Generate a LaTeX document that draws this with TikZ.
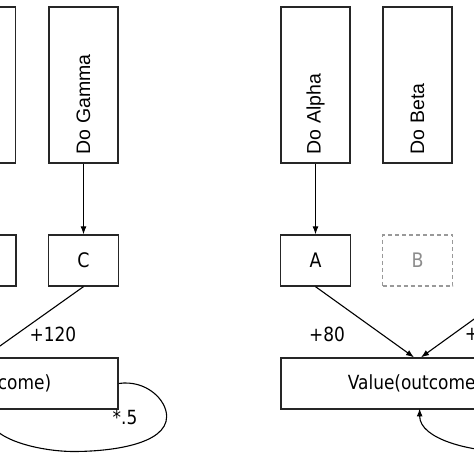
\documentclass[tikz,border=0pt]{standalone}
\usepackage{fontspec}
\setmainfont{Liberation Sans}
\newfontfamily\valfont[FakeStretch=0.87]{DejaVu Sans}
\usetikzlibrary{arrows.meta, positioning, calc}

\begin{document}
\begin{tikzpicture}[x=1pt, y=1pt,
		% tall action boxes, text runs upwards from the bottom
		actbox/.style={draw=black!85, line width=1.3pt, rotate=90,
			minimum height=69pt, text width=140pt, inner xsep=8pt, align=left,
			font=\fontsize{19.5}{22}\selectfont},
		choicebox/.style={draw=black!85, line width=1.3pt,
			minimum width=70pt, minimum height=51pt,
			font=\valfont\fontsize{20}{22}\selectfont},
		ghostbox/.style={choicebox, draw=black!40, dashed,
			dash pattern=on 4pt off 3pt, text=black!45},
		valbox/.style={draw=black!85, line width=1.3pt,
			minimum width=268pt, minimum height=51pt,
			font=\valfont\fontsize{19.5}{22}\selectfont},
		lbl/.style={font=\valfont\fontsize{19.5}{22}\selectfont},
		link/.style={-{Latex[length=8pt,width=6pt]}, line width=1.1pt}]
	\useasboundingbox (0,0) rectangle (474,474);
	\clip (0,0) rectangle (474,474);
	% ---------- top row: actions ----------
	\node[actbox] (actL) at (-19,389) {};
	\node[actbox] (gamma) at (83.5,389) {Do Gamma};
	\node[actbox] (alpha) at (315.5,389) {Do Alpha};
	\node[actbox] (beta) at (417.5,389) {Do Beta};
	% ---------- middle row: outcomes ----------
	\node[choicebox] (outL) at (-19,213.5) {};
	\node[choicebox] (c) at (83.5,213.5) {C};
	\node[choicebox] (a) at (315.5,213.5) {A};
	\node[ghostbox] (b) at (417.5,213.5) {B};
	% ---------- bottom row: values ----------
	\node[valbox] (valL) at (-16,90.5) {Value(outcome)};
	\node[valbox] (valR) at (415,90.5) {Value(outcome)};
	\coordinate (outR) at (520,188);
	% rotated boxes: west is the bottom edge
	\draw[link] (gamma.west) -- (c.north);
	\draw[link] (alpha.west) -- (a.north);
	\draw[link] (c.south) -- (valL.north);
	\draw[link] (a.south) -- ($(valR.north)+(-1,0)$);
	\draw[link] (outR) -- ($(valR.north)+(6,0)$);
	\node[lbl] (w120) at (53,140) {+120};
	\node[lbl] (w80) at (327,140) {+80};
	\node[lbl] (wR) at (472,140) {+};
	% discount loops
	\foreach \v in {valL,valR}
	\draw[link] (\v.east) .. controls +(27,4) and +(0,17) .. ++(48,-33)
	.. controls +(0,-28) and +(37,0) .. ++(-93,-35)
	.. controls +(-33,0) and +(0,-31) .. ++(-85,43);
	\node[lbl] (disc) at (125,57) {*.5};
\end{tikzpicture}
\end{document}
